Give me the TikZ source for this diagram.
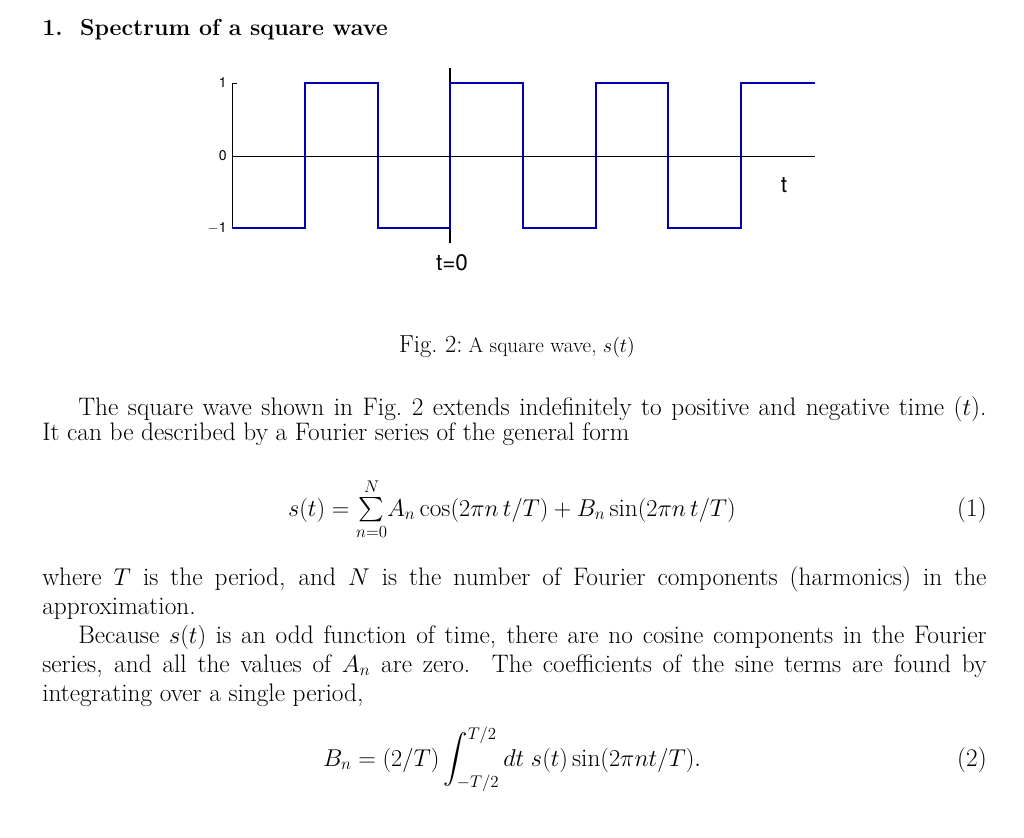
\documentclass[tikz,border=0pt]{standalone}
\usepackage{amsmath}
\usepackage{fontspec}
\newfontfamily\hv{TeX Gyre Heros}
\begin{document}
\begin{tikzpicture}[x=0.025cm,y=-0.025cm,
  body/.style={inner sep=0pt,font=\fontsize{18}{19}\selectfont},
  lbl/.style={inner sep=0pt,font=\hv\fontsize{10}{11}\selectfont},
  wave/.style={blue!70!black,line width=1.3pt}]
\useasboundingbox (0,0) rectangle (1024,837);
% title
\node[inner sep=0pt,anchor=base west,font=\bfseries\fontsize{16.5}{17}\selectfont] (title) at (42,35) {1.\ \ Spectrum of a square wave};
% plot
\draw[line width=0.5pt] (232,83) -- (232,228);
\draw[line width=0.5pt] (232,83) -- (237,83) (232,228) -- (237,228);
\draw[line width=0.5pt] (232,156) -- (815,156);
\draw[line width=1pt] (450,68) -- (450,243);
\draw[wave] (232,228) -- (305,228) -- (305,83) -- (378,83) -- (378,228) -- (450,228) -- (450,83) -- (523,83) -- (523,228) -- (596,228) -- (596,83) -- (668,83) -- (668,228) -- (741,228) -- (741,83) -- (815,83);
\node[lbl,anchor=east] (y1) at (227,83) {1};
\node[lbl,anchor=east] (y0) at (227,156) {0};
\node[lbl,anchor=east] (ym) at (227,228) {$-$1};
\node[inner sep=0pt,font=\hv\fontsize{16}{17}\selectfont] (tl) at (784,185) {t};
\node[inner sep=0pt,font=\hv\fontsize{16}{17}\selectfont] (t0) at (452,263) {t=0};
% caption
\node[inner sep=0pt,anchor=base] (cap) at (517,352) {{\fontsize{17.5}{18}\selectfont Fig.\ 2:} {\fontsize{15}{16}\selectfont A square wave, $s(t)$}};
% paragraph 1
\node[body,anchor=north west,text width=23.6cm,align=justify,font=\fontsize{18}{16.5}\selectfont] (p1) at (42,396)
{\hspace*{0.9cm}The square wave shown in Fig.~2 extends indefinitely to positive and negative time ($t$).\linebreak It can be described by a Fourier series of the general form};
% eq 1
\node[body,anchor=base] (e1) at (512,516) {$\displaystyle s(t) = {\textstyle\sum\limits_{n=0}^{N}} A_n\cos(2\pi n\,t/T) + B_n\sin(2\pi n\,t/T)$};
\node[body,anchor=base east] (n1) at (987,516) {(1)};
% paragraph 2
\node[body,anchor=north west,text width=23.6cm,align=justify,font=\fontsize{18}{20.6}\selectfont] (p2) at (42,566)
{where $T$ is the period, and $N$ is the number of Fourier components (harmonics) in the\linebreak approximation.\par
\hspace*{0.9cm}Because $s(t)$ is an odd function of time, there are no cosine components in the Fourier\linebreak series, and all the values of $A_n$ are zero.\ \ The coefficients of the sine terms are found by\linebreak integrating over a single period,};
% eq 2
\node[body,anchor=base] (e2) at (512,766) {$\displaystyle B_n = (2/T)\int_{-T/2}^{T/2} dt\; s(t)\sin(2\pi nt/T).$};
\node[body,anchor=base east] (n2) at (987,766) {(2)};
\end{tikzpicture}
\end{document}
